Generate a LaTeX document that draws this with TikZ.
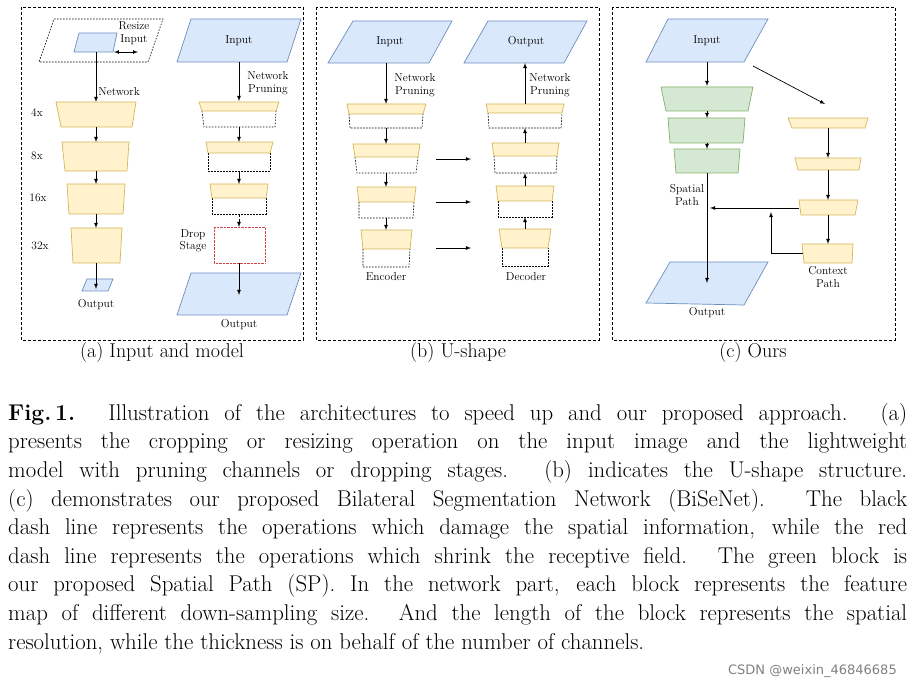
\documentclass[tikz,border=0pt]{standalone}
\usepackage{fontspec}
\newfontfamily\wmfont{DejaVu Sans}
\definecolor{bfill}{HTML}{DAE8FC}\definecolor{bdraw}{HTML}{6C8EBF}
\definecolor{yfill}{HTML}{FFF2CC}\definecolor{ydraw}{HTML}{D6B656}
\definecolor{gfill}{HTML}{D5E8D4}\definecolor{gdraw}{HTML}{82B366}
\definecolor{rdash}{HTML}{CC4444}
\newcommand\trp[7]{\draw[#1] (#3,#2)--(#4,#2)--(#7,#5)--(#6,#5)--cycle;}
\newcommand\prn[9]{% ytop xtl xtr yy xyl xyr yd xdl xdr
 \draw[black,line width=0.6pt,dash pattern=on 1.6pt off 1.4pt] (#5,#4)--(#8,#7)--(#9,#7)--(#6,#4);
 \draw[yel] (#2,#1)--(#3,#1)--(#6,#4)--(#5,#4)--cycle;}
\begin{document}
\begin{tikzpicture}[x=1pt,y=-1pt,
 blu/.style={fill=bfill,draw=bdraw,line width=0.7pt},
 yel/.style={fill=yfill,draw=ydraw,line width=0.7pt},
 grn/.style={fill=gfill,draw=gdraw,line width=0.7pt},
 arr/.style={-latex,line width=0.8pt},
 box/.style={densely dashed,line width=0.8pt},
 lbl/.style={font=\fontsize{11.5}{12.5}\selectfont,align=center,inner sep=0},
 sub/.style={font=\fontsize{20}{22}\selectfont,inner sep=0}]
\useasboundingbox (0,0) rectangle (913,692);
% ---------- panel a
\draw[box] (21,7) rectangle (303,340);
\draw[black,line width=0.6pt,dash pattern=on 1.6pt off 1.4pt] (54,19)--(163,19)--(148,62)--(39,62)--cycle;
\draw[blu] (79,33)--(117,33)--(113,52)--(74,52)--cycle;
\node[lbl] (ri) at (134,33) {Resize\\Input};
\draw[latex-latex,line width=0.7pt] (114,52)--(138,52);
\draw[arr] (96,52)--(96,102) node[lbl,pos=0.8,anchor=west,xshift=2pt] {Network};
\trp{yel}{102}{56}{136}{127}{61}{132}
\trp{yel}{142}{62}{129}{171}{65}{127}
\trp{yel}{184}{67}{125}{214}{69}{123}
\trp{yel}{228}{71}{122}{263}{73}{120}
\node[lbl] at (37,113) {4x};\node[lbl] at (37,156) {8x};
\node[lbl] at (38,198) {16x};\node[lbl] at (40,246) {32x};
\draw[arr] (96,127)--(96,142);\draw[arr] (96,171)--(96,184);\draw[arr] (96,214)--(96,228);
\draw[blu] (87,279)--(113,279)--(108,291)--(82,291)--cycle;
\draw[arr] (96,263)--(96,289);
\node[lbl] at (96,305) {Output};
\draw[blu] (191,19)--(301,19)--(287,62)--(177,62)--cycle;
\node[lbl] at (239,41) {Input};
\draw[arr] (239,62)--(239,101);
\node[lbl] at (268,83) {Network\\Pruning};
\prn{102}{199}{279}{111}{202}{276}{127}{204}{275}
\prn{142}{206}{273}{153}{208}{270}{171}{208}{270}
\prn{184}{210}{268}{198}{212}{266}{214}{212}{266}
\draw[arr] (239,127)--(239,142);\draw[arr] (239,171)--(239,184);
\draw[arr,densely dashed] (239,214)--(239,227);
\draw[densely dotted,rdash,thin] (214,227) rectangle (265,263);
\node[lbl] at (193,241) {Drop\\Stage};
\draw[blu] (191,273)--(301,273)--(287,315)--(177,315)--cycle;
\draw[arr] (239,263)--(239,295);
\node[lbl] at (239,325) {Output};
\node[sub] at (162,353) {(a) Input and model};
% ---------- panel b
\draw[box] (316,7) rectangle (599,340);
\draw[blu] (353,21)--(452,21)--(429,63)--(328,63)--cycle;
\node[lbl] at (390,42) {Input};
\draw[blu] (488,21)--(587,21)--(564,63)--(464,63)--cycle;
\node[lbl] at (526,42) {Output};
\draw[arr] (386,63)--(386,104);\node[lbl] at (415,85) {Network\\Pruning};
\prn{104}{347}{426}{114}{349}{423}{128}{350}{422}
\prn{144}{353}{420}{157}{355}{418}{173}{357}{416}
\prn{187}{357}{416}{202}{359}{414}{218}{359}{413}
\prn{230}{361}{412}{249}{363}{410}{267}{363}{409}
\draw[arr] (386,128)--(386,144);\draw[arr] (386,173)--(386,187);\draw[arr] (386,218)--(386,230);
\node[lbl] at (386,277) {Encoder};
\prn{104}{486}{564}{113}{488}{562}{128}{489}{561}
\prn{143}{492}{559}{156}{494}{557}{173}{495}{556}
\prn{186}{496}{554}{201}{498}{552}{217}{498}{552}
\prn{229}{499}{551}{248}{502}{548}{266}{502}{548}
\draw[arr] (525,229)--(525,217);\draw[arr] (525,186)--(525,173);\draw[arr] (525,143)--(525,128);
\draw[arr] (525,104)--(525,63);\node[lbl] at (550,85) {Network\\Pruning};
\node[lbl] at (526,277) {Decoder};
\draw[arr] (436,159)--(471,159);\draw[arr] (436,202)--(471,202);\draw[arr] (436,248)--(471,248);
\node[sub] at (458,353) {(b) U-shape};
% ---------- panel c
\draw[box] (612,7) rectangle (895,340);
\draw[blu] (668,19)--(768,19)--(744,62)--(646,62)--cycle;
\node[lbl] at (707,41) {Input};
\draw[arr] (707,62)--(707,86);
\trp{grn}{87}{661}{753}{111}{666}{748}
\trp{grn}{118}{668}{745}{143}{670}{743}
\trp{grn}{149}{674}{740}{173}{676}{738}
\draw[arr] (707,111)--(707,118);\draw[arr] (707,143)--(707,149);
\node[lbl] at (687,195) {Spatial\\Path};
\draw[blu] (670,262)--(768,262)--(744,305)--(646,303)--cycle;
\draw[arr] (707,173)--(707,283);
\node[lbl] at (707,313) {Output};
\draw[arr,line width=0.7pt] (753,66)--(825,104);
\trp{yel}{118}{788}{868}{128}{792}{865}
\trp{yel}{158}{795}{861}{170}{798}{859}
\trp{yel}{200}{799}{858}{215}{801}{855}
\trp{yel}{244}{802}{853}{263}{804}{852}
\draw[arr] (828,128)--(828,158);\draw[arr] (828,170)--(828,200);\draw[arr] (828,215)--(828,244);
\draw[arr] (799,208)--(710,208);
\draw[arr] (803,253)--(771,253)--(771,212);
\node[lbl] at (828,277) {Context\\Path};
\node[sub] at (753,353) {(c) Ours};
% ---------- caption
\node[anchor=north west,inner sep=0,text width=899pt,align=justify,
 font=\fontsize{22.8}{28.6}\selectfont] at (8,403) {\textbf{Fig.\,1.} Illustration of the architectures to speed up and our proposed approach. (a)\linebreak presents the cropping or resizing operation on the input image and the lightweight\linebreak model with pruning channels or dropping stages. (b) indicates the U-shape structure.\linebreak (c) demonstrates our proposed Bilateral Segmentation Network (BiSeNet). The black\linebreak dash line represents the operations which damage the spatial information, while the red\linebreak dash line represents the operations which shrink the receptive field. The green block is\linebreak our proposed Spatial Path (SP). In the network part, each block represents the feature\linebreak map of different down-sampling size. And the length of the block represents the spatial\linebreak resolution, while the thickness is on behalf of the number of channels.};
\node[anchor=east,inner sep=0,font=\wmfont\fontsize{13}{14}\selectfont,text=gray] at (897,671) {CSDN @weixin\_46846685};
\end{tikzpicture}
\end{document}
